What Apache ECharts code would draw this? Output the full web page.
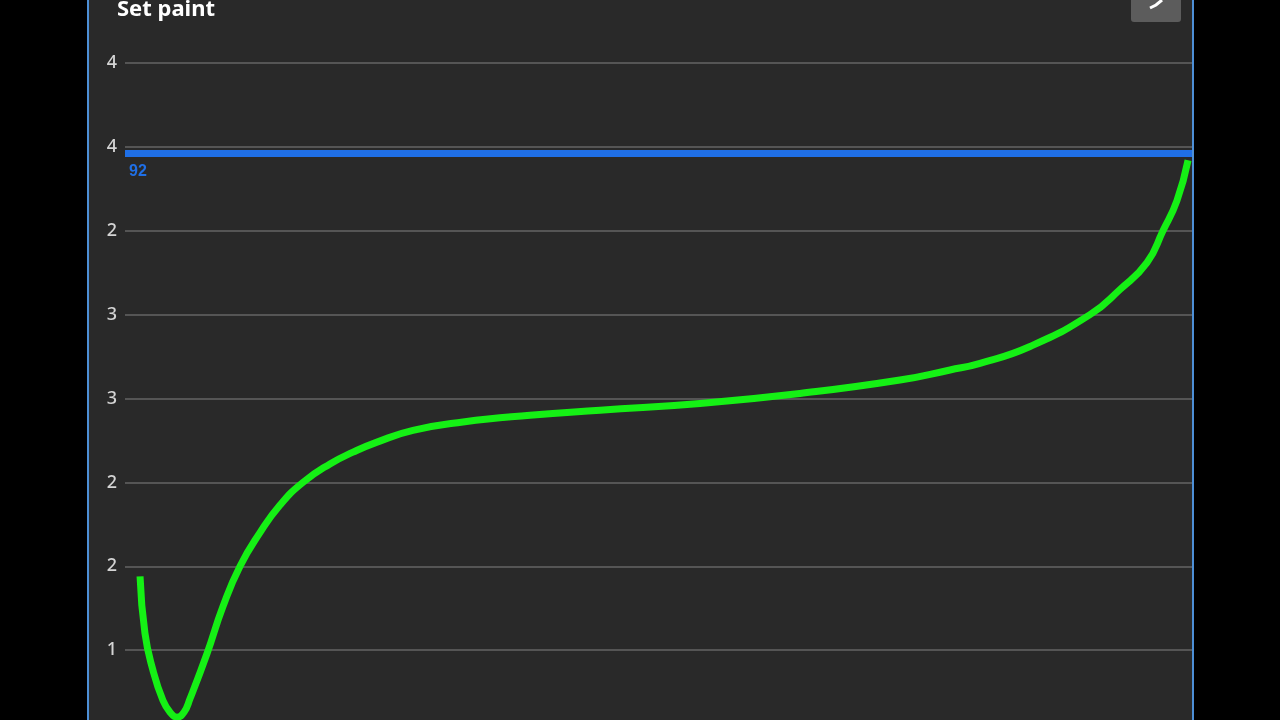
<!DOCTYPE html>
<html>
<head>
<meta charset="utf-8">
<script src="https://cdn.jsdelivr.net/npm/echarts@6/dist/echarts.min.js"></script>
<style>
html,body{margin:0;padding:0;background:#000;overflow:hidden;width:1280px;height:720px;}
#chart{width:1280px;height:760px;}
</style>
</head>
<body>
<div id="chart"></div>
<script>
// ---- data ----
const titleText = "Set paint";
const xValues = [1.41, 1.87, 2.62, 3.56, 4.22, 4.87, 5.53, 6.09, 7.69, 9.18, 10.78, 12.65, 14.53, 16.68, 19.21, 21.37, 23.62, 26.99, 31.68, 37.96, 44.52, 53.89, 63.26, 72.63, 77.32, 80.13, 84.82, 90.44, 93.25, 95.78, 97.28, 98.59, 99.63];
const yValues = [0.94, 0.60, 0.38, 0.20, 0.13, 0.10, 0.13, 0.21, 0.48, 0.76, 1.00, 1.20, 1.365, 1.50, 1.61, 1.68, 1.74, 1.81, 1.86, 1.90, 1.93, 1.97, 2.03, 2.11, 2.17, 2.21, 2.31, 2.50, 2.65, 2.81, 3.00, 3.18, 3.42];
const refValue = 3.464;
const refLabel = "92";
const yTickLabels = ["0", "1", "2", "2", "3", "3", "2", "4", "4"];
const yMin = 0, yMax = 4, yStep = 0.5;

const chart = echarts.init(document.getElementById('chart'));
const pts = xValues.map((x, i) => [x, yValues[i]]);

chart.setOption({
  backgroundColor: '#000',
  animation: false,
  graphic: [
    { type: 'rect', z: -10, silent: true,
      shape: { x: 88, y: -10, width: 1105, height: 790 },
      style: { fill: '#292929', stroke: '#4d8fd6', lineWidth: 2 } },
    { type: 'rect', z: 10, silent: true,
      shape: { x: 1131, y: -10, width: 50, height: 32, r: 3 },
      style: { fill: '#5c5c5c' } },
    { type: 'polyline', z: 11, silent: true,
      shape: { points: [[1150, 8], [1156, 5], [1162, 0]] },
      style: { stroke: '#ffffff', lineWidth: 3, fill: null } }
  ],
  title: {
    text: titleText, left: 112, top: -6,
    textStyle: { color: '#ffffff', fontSize: 22, fontWeight: 'bold', fontFamily: 'Noto Sans' }
  },
  grid: { left: 125, right: 88, top: 63, bottom: 26, containLabel: false },
  xAxis: {
    type: 'value', min: 0, max: 100,
    show: false
  },
  yAxis: {
    type: 'value', min: yMin, max: yMax, interval: yStep,
    axisLine: { show: false }, axisTick: { show: false },
    axisLabel: {
      color: '#d4d4d4', fontSize: 18, fontFamily: 'Noto Sans', fontWeight: 500, margin: 8,
      formatter: v => yTickLabels[Math.round((v - yMin) / yStep)]
    },
    splitLine: { lineStyle: { color: '#555555', width: 2 } }
  },
  series: [{
    type: 'line', data: pts, smooth: 0.5, showSymbol: false,
    lineStyle: { color: '#15f015', width: 7 },
    markLine: {
      silent: true, symbol: 'none',
      data: [{ yAxis: refValue }],
      lineStyle: { color: '#1f6fe6', width: 7, type: 'solid' },
      label: {
        show: true, position: 'insideStartBottom', formatter: refLabel,
        color: '#1f6fe6', fontSize: 16, fontWeight: 'bold', distance: [4, 10]
      }
    }
  }]
});
</script>
</body>
</html>
